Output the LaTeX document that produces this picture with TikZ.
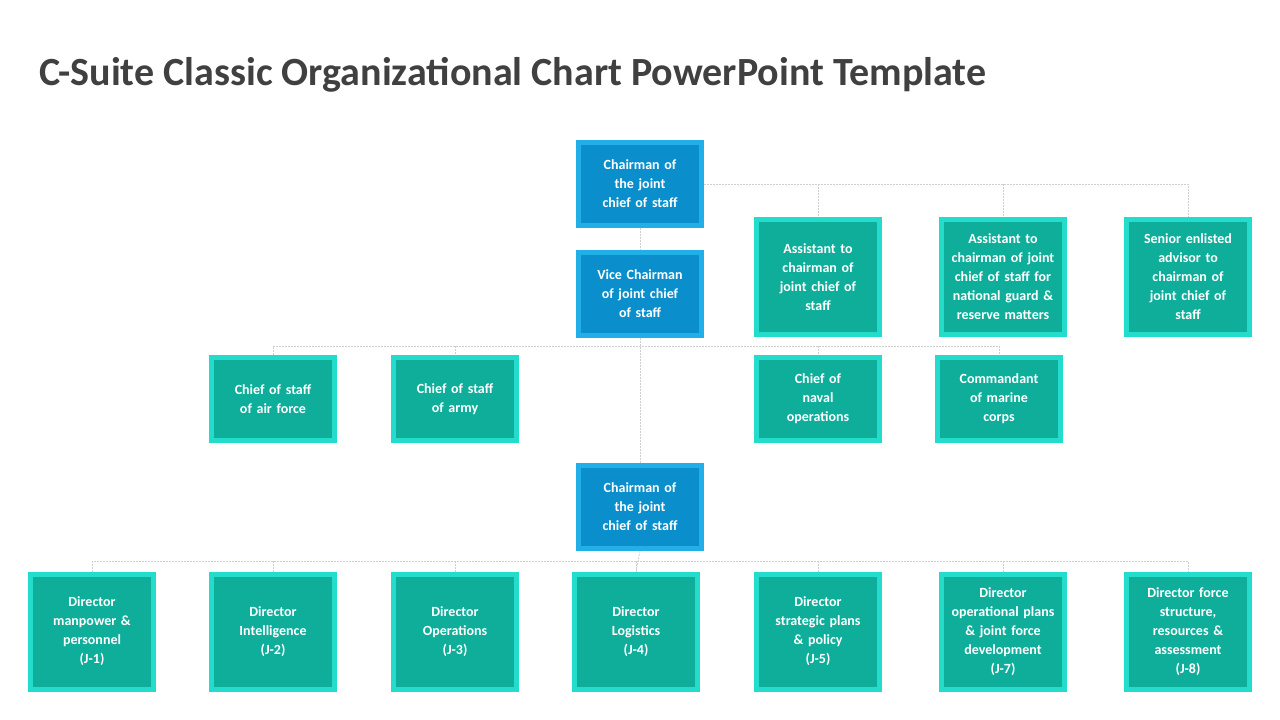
\documentclass[tikz,border=0pt]{standalone}
\usepackage{fontspec}
\setmainfont{Carlito}
\definecolor{bfr}{HTML}{22AEE6}
\definecolor{bfi}{HTML}{0A8FCC}
\definecolor{tfr}{HTML}{24DCCB}
\definecolor{tfi}{HTML}{0EAE9B}
\definecolor{ttl}{HTML}{404040}
\definecolor{ln}{HTML}{CFCFCF}
\begin{document}
\begin{tikzpicture}[x=1pt,y=-1pt,
  box/.style={draw=#1fr,fill=#1fi,line width=5pt,minimum width=123pt,minimum height=83pt,
    text width=118pt,align=center,text=white,font=\bfseries\fontsize{14}{19}\selectfont,inner sep=0pt},
  tall/.style={minimum height=115pt},
  con/.style={draw=ln,dashed,dash pattern=on 2pt off 1pt,line width=0.7pt}]
\useasboundingbox (0,0) rectangle (1280,720);
\node[anchor=west,text=ttl,font=\bfseries\fontsize{40}{48}\selectfont] (title) at (36,75) {C-Suite Classic Organizational Chart PowerPoint Template};
% top
\node[box=b] (c1) at (640,184) {Chairman of\\the joint\\chief of staff};
\node[box=b] (vc) at (640,293.5) {Vice Chairman\\of joint chief\\of staff};
\node[box=t,tall] (a1) at (818,277) {Assistant to\\chairman of\\joint chief of\\staff};
\node[box=t,tall] (a2) at (1003,277) {Assistant to\\chairman of joint\\chief of staff for\\national guard \&\\reserve matters};
\node[box=t,tall] (a3) at (1188,277) {Senior enlisted\\advisor to\\chairman of\\joint chief of\\staff};
% row 3
\node[box=t] (r1) at (273,399) {Chief of staff\\of air force};
\node[box=t] (r2) at (455,399) {Chief of staff\\of army};
\node[box=t] (r3) at (818,399) {Chief of\\naval\\operations};
\node[box=t] (r4) at (999,399) {Commandant\\of marine\\corps};
\node[box=b] (c2) at (640,507) {Chairman of\\the joint\\chief of staff};
% bottom
\node[box=t,tall] (d1) at (92,631.5) {Director\\manpower \&\\personnel\\(J-1)};
\node[box=t,tall] (d2) at (273,631.5) {Director\\Intelligence\\(J-2)};
\node[box=t,tall] (d3) at (455,631.5) {Director\\Operations\\(J-3)};
\node[box=t,tall] (d4) at (636,631.5) {Director\\Logistics\\(J-4)};
\node[box=t,tall] (d5) at (818,631.5) {Director\\strategic plans\\\& policy\\(J-5)};
\node[box=t,tall] (d6) at (1003,631.5) {Director\\operational plans\\\& joint force\\development\\(J-7)};
\node[box=t,tall] (d7) at (1188,631.5) {Director force\\structure,\\resources \&\\assessment\\(J-8)};
\begin{scope}[on background layer/.style={}]
\end{scope}
% connectors
\coordinate (h1) at (1188,184);
\draw[con] (c1.east) -- (h1) -- (a3.north);
\draw[con] (a1.north |- h1) -- (a1.north);
\draw[con] (a2.north |- h1) -- (a2.north);
\draw[con] (c1.south) -- (vc.north);
\draw[con] (vc.south) -- (c2.north);
\coordinate (h2) at (640,346);
\draw[con] (r1.north) -- (r1.north |- h2) -- (r4.north |- h2) -- (r4.north);
\draw[con] (r2.north |- h2) -- (r2.north);
\draw[con] (r3.north |- h2) -- (r3.north);
\coordinate (h3) at (640,561);
\draw[con] (d1.north) -- (d1.north |- h3) -- (d7.north |- h3) -- (d7.north);
\draw[con] (c2.south) -- (d4.north);
\foreach \n in {d2,d3,d4,d5,d6} \draw[con] (\n.north |- h3) -- (\n.north);
\end{tikzpicture}
\end{document}
